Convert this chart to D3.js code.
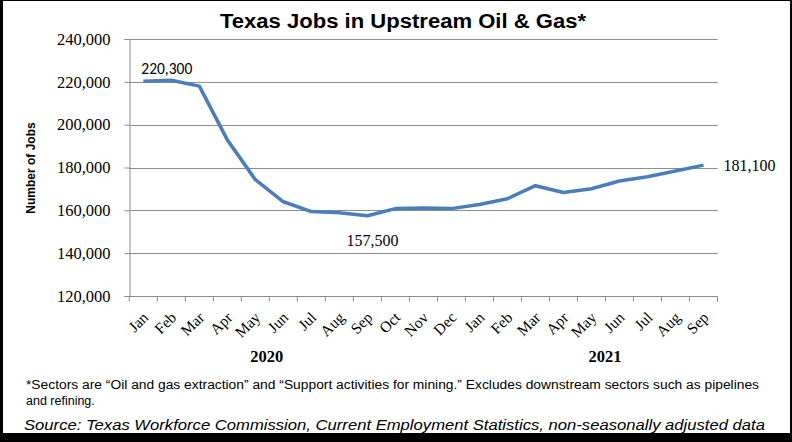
<!DOCTYPE html>
<html><head><meta charset="utf-8">
<script src="https://cdn.jsdelivr.net/npm/d3@7"></script>
<style>
html,body{margin:0;padding:0;background:#000;}
svg{display:block;}
</style>
</head><body>
<script>
const months = ["Jan","Feb","Mar","Apr","May","Jun","Jul","Aug","Sep","Oct","Nov","Dec","Jan","Feb","Mar","Apr","May","Jun","Jul","Aug","Sep"];
const years = ["2020","2021"];
const jobs = [220300,220700,218000,192900,174300,164000,159400,158900,157500,160800,161100,160800,162700,165400,171500,168300,170100,173700,175700,178400,181100];
const yTicks = [120000,140000,160000,180000,200000,220000,240000];
const callouts = [{i:0,label:"220,300"},{i:8,label:"157,500"},{i:20,label:"181,100"}];

const W=792,H=442;
const svg=d3.select("body").append("svg").attr("width",W).attr("height",H);
svg.append("rect").attr("x",0).attr("y",0).attr("width",W).attr("height",H).attr("fill","#000");
svg.append("rect").attr("x",3).attr("y",1).attr("width",W-5).attr("height",432).attr("fill","#fff");

const x0=129.3,x1=717.5,yTop=39,yBot=296;
const x=d3.scaleBand().domain(d3.range(months.length)).range([x0,x1]);
const y=d3.scaleLinear().domain([120000,240000]).range([yBot,yTop]);

svg.append("g").selectAll("line").data(yTicks.slice(1)).join("line")
  .attr("x1",x0).attr("x2",x1).attr("y1",d=>Math.round(y(d))+0.5).attr("y2",d=>Math.round(y(d))+0.5)
  .attr("stroke","#8c8c8c").attr("stroke-width",1);

const yAxis=svg.append("g").attr("transform",`translate(${Math.round(x0)+0.5},0)`)
  .call(d3.axisLeft(y).tickValues(yTicks).tickSize(5).tickFormat(d3.format(",")));
yAxis.select(".domain").attr("stroke","#8c8c8c");
yAxis.selectAll(".tick line").attr("stroke","#8c8c8c");
yAxis.selectAll(".tick text").attr("font-family","'Liberation Serif', serif").attr("font-size","16.5px").attr("fill","#000").attr("x",-19);

const xAxis=svg.append("g").attr("transform",`translate(0,${Math.round(yBot)+0.5})`)
  .call(d3.axisBottom(x).tickSize(5).tickFormat(i=>months[i]));
xAxis.select(".domain").attr("stroke","#8c8c8c").attr("d",`M${x0},5V0H${x1}V5`);
xAxis.selectAll(".tick line").attr("x1",x.bandwidth()/2).attr("x2",x.bandwidth()/2).attr("stroke","#8c8c8c");
xAxis.selectAll(".tick text")
  .attr("font-family","'Liberation Serif', serif").attr("font-size","15.5px").attr("fill","#000")
  .attr("text-anchor","end").attr("dy","0").attr("y",0)
  .attr("transform","translate(6,22) rotate(-45)");

svg.append("path").datum(jobs)
  .attr("d",d3.line().x((d,i)=>x(i)+x.bandwidth()/2).y(d=>y(d)))
  .attr("fill","none").attr("stroke","#4a7ebb").attr("stroke-width",3.5).attr("stroke-linejoin","round");

const serif="'Liberation Serif', serif";
svg.append("text").text(callouts[0].label).attr("x",x(callouts[0].i)+x.bandwidth()/2-2).attr("y",y(jobs[callouts[0].i])-7)
  .attr("font-family","Carlito, 'Liberation Sans', sans-serif").attr("font-size","15.5px").attr("fill","#000");
svg.append("text").text(callouts[1].label).attr("x",x(callouts[1].i)+x.bandwidth()/2-21).attr("y",y(jobs[callouts[1].i])+30)
  .attr("font-family",serif).attr("font-size","16px").attr("fill","#000");
svg.append("text").text(callouts[2].label).attr("x",x1+6).attr("y",y(jobs[callouts[2].i])+6)
  .attr("font-family",serif).attr("font-size","16px").attr("fill","#000");

svg.selectAll(".yr").data(years).join("text").attr("class","yr")
  .attr("x",(d,i)=>[266.7,605][i]).attr("y",362).attr("text-anchor","middle")
  .attr("font-family",serif).attr("font-weight","bold").attr("font-size","16.5px").text(d=>d);

svg.append("text").attr("transform","translate(35,168) rotate(-90)").attr("text-anchor","middle")
  .attr("font-family","'Liberation Sans', Arial, sans-serif").attr("font-weight","bold").attr("font-size","12px").text("Number of Jobs");

svg.append("text").attr("x",403).attr("y",28).attr("text-anchor","middle")
  .attr("font-family","'Liberation Sans', Arial, sans-serif").attr("font-weight","bold").attr("font-size","20px")
  .attr("textLength",366).attr("lengthAdjust","spacingAndGlyphs")
  .text("Texas Jobs in Upstream Oil & Gas*");

svg.append("text").attr("x",26).attr("y",389).attr("font-family","'Liberation Sans', Arial, sans-serif").attr("font-size","12.5px")
  .attr("textLength",733).attr("lengthAdjust","spacingAndGlyphs")
  .text("*Sectors are “Oil and gas extraction” and “Support activities for mining.” Excludes downstream sectors such as pipelines");
svg.append("text").attr("x",26).attr("y",405).attr("font-family","'Liberation Sans', Arial, sans-serif").attr("font-size","12.5px")
  .text("and refining.");
svg.append("text").attr("x",24).attr("y",430).attr("font-family","'Liberation Sans', Arial, sans-serif").attr("font-style","italic").attr("font-size","15.5px")
  .attr("textLength",741).attr("lengthAdjust","spacingAndGlyphs")
  .text("Source: Texas Workforce Commission, Current Employment Statistics, non-seasonally adjusted data");
</script>
</body></html>
